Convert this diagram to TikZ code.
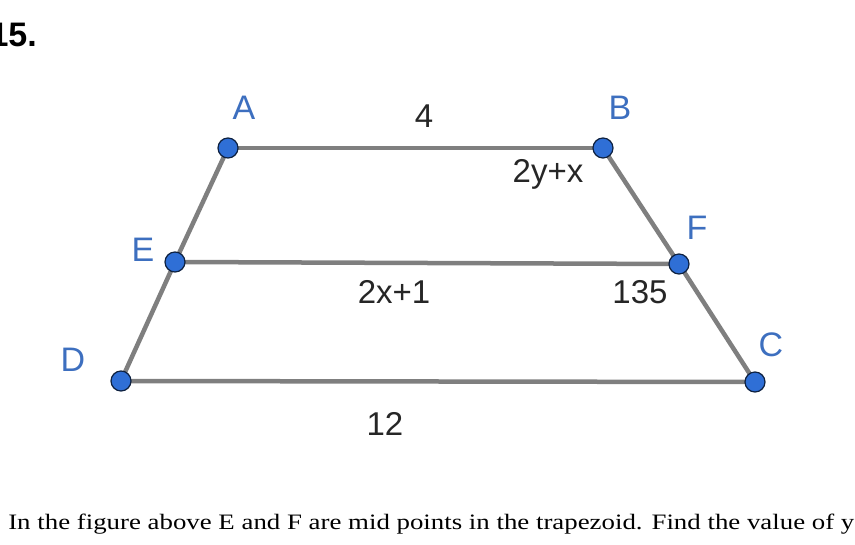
\documentclass[tikz,border=0pt]{standalone}
\usepackage{fontspec}
\setsansfont{Liberation Sans}
\setmainfont{Liberation Serif}
\definecolor{ptblue}{HTML}{2F6FD6}
\definecolor{lblblue}{HTML}{3D6FBF}
\definecolor{seg}{HTML}{7F7F7F}
\begin{document}
\begin{tikzpicture}[x=1pt,y=-1pt,
  pt/.style={circle,fill=ptblue,draw=black!70!ptblue,line width=1.2pt,minimum size=20pt,inner sep=0pt},
  lbl/.style={font=\sffamily\fontsize{34}{36}\selectfont,text=lblblue},
  num/.style={font=\sffamily\fontsize{33}{36}\selectfont,text=black!85},
  seg/.style={draw=seg,line width=4.5pt}]
\useasboundingbox (0,0) rectangle (855,545);
\node[anchor=west,font=\sffamily\bfseries\fontsize{34}{36}\selectfont] (h) at (-14,35) {15.};
\coordinate (A) at (228,148); \coordinate (B) at (603,148);
\coordinate (E) at (175,262); \coordinate (F) at (679,264);
\coordinate (D) at (121,381); \coordinate (C) at (755,382);
\draw[seg] (A)--(B); \draw[seg] (E)--(F); \draw[seg] (D)--(C);
\draw[seg] (A)--(E)--(D); \draw[seg] (B)--(F)--(C);
\foreach \p in {A,B,E,F,D,C} \node[pt] (n\p) at (\p) {};
\node[lbl] (lA) at (244,108) {A};
\node[lbl] (lB) at (620,108) {B};
\node[lbl] (lE) at (143,250) {E};
\node[lbl] (lF) at (697,228) {F};
\node[lbl] (lD) at (73,360) {D};
\node[lbl] (lC) at (771,345) {C};
\node[num] (t4) at (424,116) {4};
\node[num] (t2yx) at (548,174) {2y+x};
\node[num] (t2x1) at (394,292) {2x+1};
\node[num] (t135) at (640,292) {135};
\node[num] (t12) at (385,424) {12};
\node[anchor=west,xscale=1.22,font=\fontsize{22}{24}\selectfont] (cap) at (4,524) {In the figure above E and F are mid points in the trapezoid. Find the value of y};
\end{tikzpicture}
\end{document}
